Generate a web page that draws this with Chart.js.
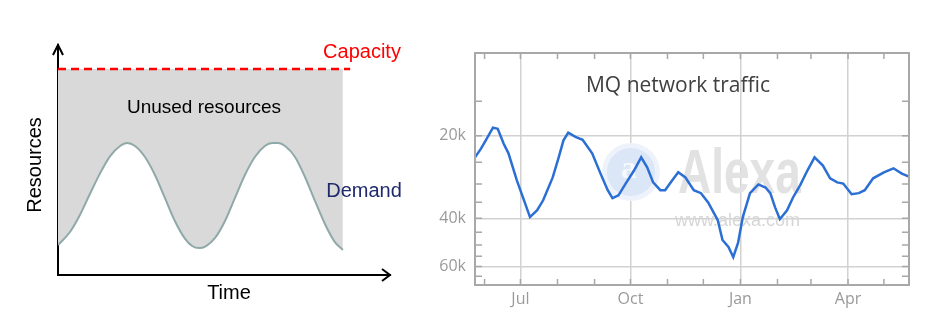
<!DOCTYPE html>
<html>
<head>
<meta charset="utf-8">
<script src="https://cdn.jsdelivr.net/npm/chart.js@4.4.0/dist/chart.umd.min.js"></script>
<style>
body{margin:0;background:#fff;width:940px;height:335px;overflow:hidden;position:relative}
#izq{position:absolute;left:0;top:0}
#der{position:absolute;left:430px;top:0}
</style>
</head>
<body>
<canvas id="izq" width="430" height="335"></canvas>
<canvas id="der" width="510" height="335"></canvas>
<script>

/* DATOS IZQUIERDA (diagrama capacidad / demanda) */

const tiempo=[0,3.6,6.6,9.6,12.7,15.7,18.7,20.8,23.2,26.2,29.2,32.2,35.2,38.3,40.4,42.5,44.6,47.3,50.3,53.3,56.3,59.3,62.3,64.5,66.3,68.4,71.4,74.4,77.4,80.4,83.4,85.8]
const demanda=[13.0,18.7,26.1,35.2,44.3,51.7,56.1,57.4,56.1,51.3,43.5,33.5,23.5,15.7,12.6,11.7,12.6,16.1,23.5,33.5,43.5,51.3,56.1,57.4,57.4,56.1,51.3,42.6,32.2,22.2,14.3,10.9]
const capacidad=89.6
const finCapacidad=88

/* DATOS DERECHA (trafico) */

const dias=[-38,-33,-29,-23,-19,-14,-10,-3,3,8,14,19,27,32,36,40,46,52,60,67,73,77,82,88,95,101,106,111,117,121,127,132,138,145,151,157,165,169,174,178,182,186,192,199,205,209,213,217,223,228,234,240,246,253,259,265,270,277,283,288,295,304,312,319,325]
const trafico=[24000,22300,20800,18700,18900,21400,23200,29100,34400,39600,37400,34400,28400,24000,20800,19500,20200,20700,23200,27500,31600,33800,33000,29900,26800,24000,26100,29600,31600,31600,29100,27200,28400,31600,32400,35000,40600,48000,50900,55400,49200,39600,32400,30100,30900,32400,36500,40300,37400,33600,30300,26800,24000,25700,28600,29600,29900,32700,32400,31600,28600,27200,26300,27500,28200]

const valoresY=[20000,40000,60000]
const etiquetasY=["20k","40k","60k"]
const marcasY=[15000,20000,25000,30000,35000,40000,45000,50000,55000,60000,65000]

const meses=[-30,0,31,62,92,123,153,184,215,243,274,304]
const trimestres=[0,92,184,274]
const etiquetasX=["Jul","Oct","Jan","Apr"]

/* GRAFICA IZQUIERDA */

const textosIzq={
id:"textosIzq",
afterDraw(chart){
const c=chart.ctx
const a=chart.chartArea
c.save()
c.strokeStyle="#000"
c.lineWidth=2
c.beginPath()
c.moveTo(a.left-5,a.top+10)
c.lineTo(a.left,a.top)
c.lineTo(a.left+5,a.top+10)
c.moveTo(a.right-8,a.bottom-6)
c.lineTo(a.right,a.bottom)
c.lineTo(a.right-8,a.bottom+6)
c.stroke()
c.textAlign="center"
c.textBaseline="middle"
c.font='20px "Liberation Sans", Arial'
c.fillStyle="#ff0000"
c.fillText("Capacity",362,52)
c.fillStyle="#1f2a6e"
c.fillText("Demand",364,191)
c.fillStyle="#000"
c.fillText("Time",229,293)
c.font='19px "Liberation Sans", Arial'
c.fillText("Unused resources",204,108)
c.font='20px "Liberation Sans", Arial'
c.translate(35,165)
c.rotate(-Math.PI/2)
c.fillText("Resources",0,0)
c.restore()
}
}

new Chart(document.getElementById("izq"),{
type:"line",
data:{
datasets:[
{
data:[{x:0,y:capacidad},{x:finCapacidad,y:capacidad}],
borderColor:"#ff0000",
borderWidth:2.5,
borderDash:[8,5],
pointRadius:0,
fill:false,
order:0
},
{
data:tiempo.map((t,i)=>({x:t,y:demanda[i]})),
borderColor:"#8fa9a8",
borderWidth:2,
pointRadius:0,
cubicInterpolationMode:"monotone",
fill:{target:{value:capacidad}},
backgroundColor:"#d9d9d9",
order:1
}
]
},
options:{
responsive:false,
animation:false,
layout:{padding:{left:58,top:45,right:40,bottom:60}},
plugins:{legend:{display:false},tooltip:{enabled:false}},
scales:{
x:{type:"linear",min:0,max:100,ticks:{display:false},grid:{display:false,drawTicks:false},border:{display:true,color:"#000",width:2}},
y:{type:"linear",min:0,max:100,ticks:{display:false},grid:{display:false,drawTicks:false},border:{display:true,color:"#000",width:2}}
}
},
plugins:[textosIzq]
})

/* GRAFICA DERECHA */

const marcoDer={
id:"marcoDer",
beforeDatasetsDraw(chart){
const c=chart.ctx
c.save()
// marca de agua
c.fillStyle="#eef3fb"
c.beginPath()
c.arc(201,172,29,0,Math.PI*2)
c.fill()
c.fillStyle="#dbe6f6"
c.beginPath()
c.arc(201,172,24,0,Math.PI*2)
c.fill()
c.fillStyle="#f6f9fd"
c.font='bold 32px "Liberation Serif", serif'
c.textAlign="center"
c.textBaseline="middle"
c.fillText("a",199,170)
c.fillStyle="#e2e2e2"
c.textAlign="left"
c.textBaseline="alphabetic"
c.translate(248,193)
c.scale(1,1.35)
c.font='bold 46px "Liberation Sans", Arial'
c.fillText("Alexa",0,0)
c.restore()
c.save()
c.fillStyle="#d6d6d6"
c.font='18px "Liberation Sans", Arial'
c.textBaseline="middle"
c.fillText("www.alexa.com",245,221)
// titulo
c.fillStyle="#404040"
c.font='21px "Open Sans"'
c.textAlign="center"
c.fillText("MQ network traffic",248,86)
c.restore()
},
afterDatasetsDraw(chart){
const c=chart.ctx
const a=chart.chartArea
const sx=chart.scales.x
const sy=chart.scales.y
c.save()
c.strokeStyle="#a8a8a8"
c.lineWidth=1.5
c.beginPath()
meses.forEach(m=>{
const px=sx.getPixelForValue(m)
c.moveTo(px,a.top)
c.lineTo(px,a.top+6)
c.moveTo(px,a.bottom)
c.lineTo(px,a.bottom-6)
})
marcasY.forEach(v=>{
const py=sy.getPixelForValue(v)
c.moveTo(a.left,py)
c.lineTo(a.left+7,py)
c.moveTo(a.right,py)
c.lineTo(a.right-7,py)
})
c.stroke()
c.lineWidth=2
c.strokeRect(a.left,a.top,a.right-a.left,a.bottom-a.top)
c.restore()
}
}

new Chart(document.getElementById("der"),{
type:"line",
data:{
datasets:[{
data:dias.map((d,i)=>({x:d,y:trafico[i]})),
borderColor:"#2b6fd4",
borderWidth:2.5,
pointRadius:0,
tension:0,
fill:false
}]
},
options:{
responsive:false,
animation:false,
layout:{padding:{left:0,top:53,right:31,bottom:0}},
plugins:{legend:{display:false},tooltip:{enabled:false}},
scales:{
x:{
type:"linear",
min:-38,
max:325,
afterBuildTicks:s=>{s.ticks=meses.map(m=>({value:m}))},
afterFit:s=>{s.height=50},
ticks:{
autoSkip:false,
maxRotation:0,
padding:5,
color:"#9a9a9a",
font:{family:"Open Sans",size:16},
callback:v=>{const i=trimestres.indexOf(v);return i<0?"":etiquetasX[i]}
},
grid:{
drawTicks:false,
lineWidth:1.5,
color:ctx=>ctx.tick&&trimestres.includes(ctx.tick.value)?"#d2d2d2":"rgba(0,0,0,0)"
},
border:{display:false}
},
y:{
type:"logarithmic",
reverse:true,
min:10000,
max:70000,
afterBuildTicks:s=>{s.ticks=marcasY.map(v=>({value:v}))},
afterFit:s=>{s.width=45},
ticks:{
autoSkip:false,
padding:9,
color:"#9a9a9a",
font:{family:"Open Sans",size:16},
callback:v=>{const i=valoresY.indexOf(v);return i<0?"":etiquetasY[i]}
},
grid:{
drawTicks:false,
lineWidth:1.5,
color:ctx=>ctx.tick&&valoresY.includes(ctx.tick.value)?"#d2d2d2":"rgba(0,0,0,0)"
},
border:{display:false}
}
}
},
plugins:[marcoDer]
})

</script>
</body>
</html>
